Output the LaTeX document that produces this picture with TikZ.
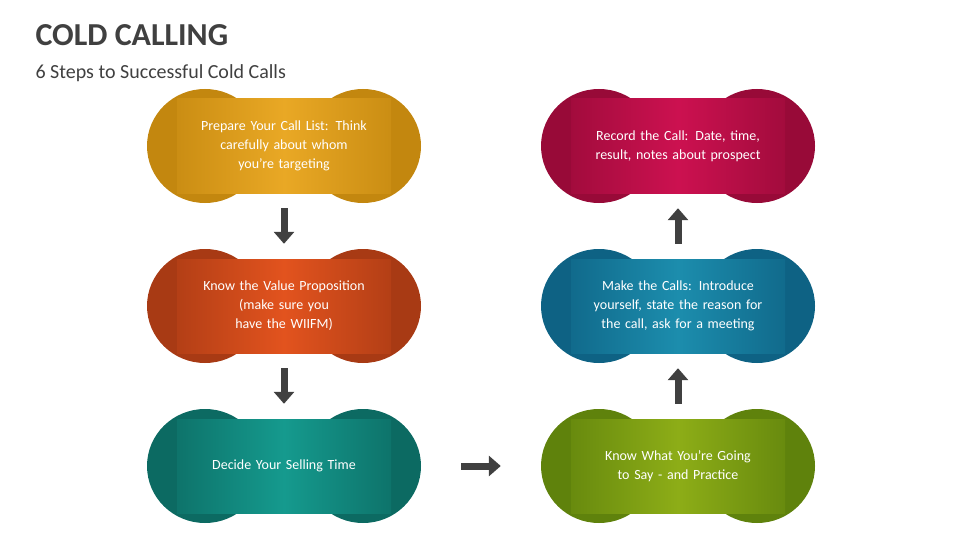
\documentclass[tikz,border=0pt]{standalone}
\usepackage{fontspec}
\setmainfont{Carlito}
\usetikzlibrary{positioning,arrows.meta}

\tikzset{
  scrollbox/.style={minimum width=214pt, minimum height=94pt, text width=190pt,
    align=center, text=white, font=\fontsize{14}{19}\selectfont},
  flowarrow/.style={draw=black!75, line width=7pt,
    -{Triangle[length=12pt,width=20pt]}, shorten >=15pt, shorten <=15pt}
}

\begin{document}
\begin{tikzpicture}[x=1pt,y=-1pt]
  \useasboundingbox (0,0) rectangle (960,540);
  \node[anchor=west, font=\fontsize{32}{36}\selectfont\bfseries, text=black!75] (title) at (32,35) {COLD CALLING};
  \node[anchor=west, font=\fontsize{20}{24}\selectfont, text=black!75] (subtitle) at (32,73) {6 Steps to Successful Cold Calls};

  % scrolls: name / x / y / light / dark / text
  \foreach \n/\x/\y/\lc/\dc/\t in {
    s1/284/146/{E9A825}/{C3870F}/{Prepare Your Call List: Think carefully about whom\\you’re targeting},
    s2/284/306/{E2531E}/{A83A14}/{Know the Value Proposition\\(make sure you have the WIIFM)},
    s3/284/466/{159A8E}/{0C6A62}/{Decide Your Selling Time},
    s4/678/466/{8DAD17}/{5F820C}/{Know What You’re Going\\to Say - and Practice},
    s5/678/306/{1C8DAD}/{0E6284}/{Make the Calls: Introduce yourself, state the reason for the call, ask for a meeting},
    s6/678/146/{CC1150}/{980A38}/{Record the Call: Date, time,\\result, notes about prospect}} {
    \definecolor{lc}{HTML}{\lc}
    \definecolor{dc}{HTML}{\dc}
    \fill[dc] (\x-79,\y) ellipse [x radius=58, y radius=57];
    \fill[dc] (\x+79,\y) ellipse [x radius=58, y radius=57];
    \node[scrollbox, left color=dc!80!lc, right color=dc!80!lc, middle color=lc] (\n) at (\x,\y) {\t};
  }

  \draw[flowarrow] (s1) -- (s2);
  \draw[flowarrow] (s2) -- (s3);
  \draw[flowarrow, shorten <=70pt, shorten >=70pt] (s3) -- (s4);
  \draw[flowarrow] (s4) -- (s5);
  \draw[flowarrow] (s5) -- (s6);
\end{tikzpicture}
\end{document}
